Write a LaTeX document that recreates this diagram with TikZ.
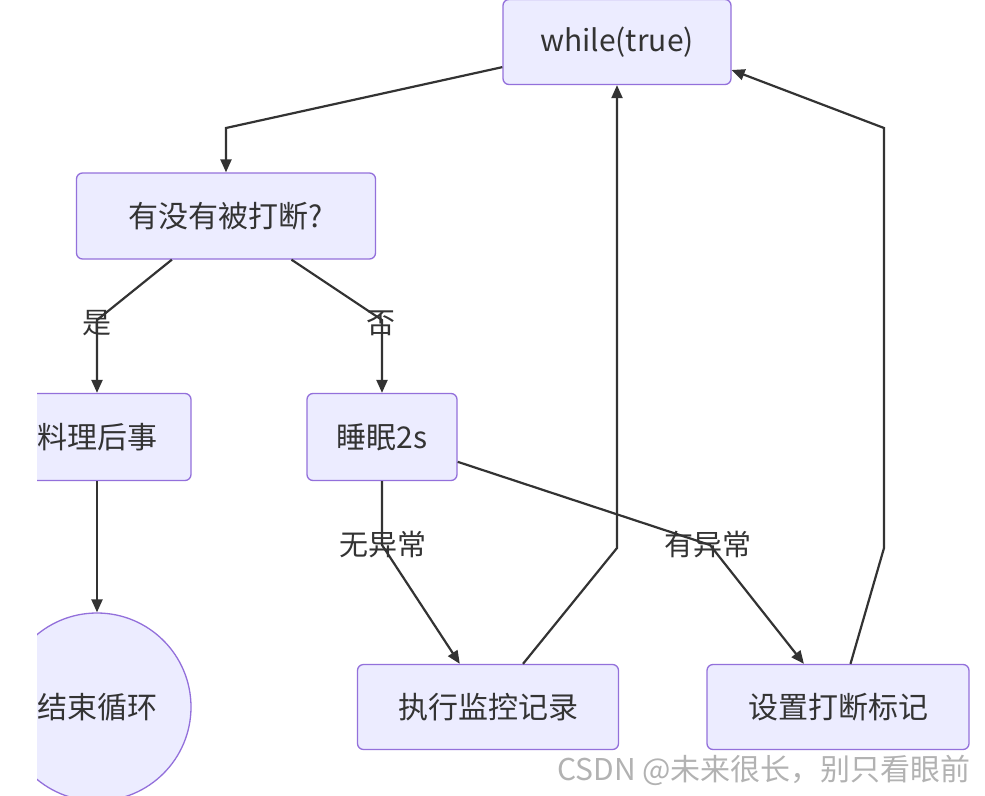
\documentclass[tikz,border=0pt]{standalone}
\usepackage{fontspec}
\setmainfont{Noto Sans CJK SC}
\usetikzlibrary{arrows.meta}
\definecolor{nodefill}{HTML}{ECECFF}
\definecolor{nodeline}{HTML}{9370DB}
\definecolor{txt}{HTML}{333333}
\begin{document}
\begin{tikzpicture}[x=1pt,y=-1pt,
  box/.style={draw=nodeline,fill=nodefill,line width=1.3pt,rounded corners=6pt,
    text=txt,font=\fontsize{30}{32}\selectfont,inner sep=0pt},
  endc/.style={draw=nodeline,fill=nodefill,line width=1.3pt,circle,
    minimum size=188pt,text=txt,font=\fontsize{30}{32}\selectfont,inner sep=0pt},
  arr/.style={draw=txt,line width=2.2pt,-{Triangle[length=13pt,width=11pt]}},
  lbl/.style={text=txt,font=\fontsize{29}{31}\selectfont,inner sep=0pt}]
\useasboundingbox (0,0) rectangle (985,795);
\begin{scope}
\clip (37,0) rectangle (985,795);
\node[box,minimum width=228pt,minimum height=85pt] (w) at (617,42) {while(true)};
\node[box,minimum width=299pt,minimum height=86pt] (q) at (226,216) {有没有被打断?};
\node[box,minimum width=188pt,minimum height=87pt] (h) at (97,437) {料理后事};
\node[endc] (c) at (97,707) {结束循环};
\node[box,minimum width=150pt,minimum height=87pt] (s) at (382,437) {睡眠2s};
\node[box,minimum width=261pt,minimum height=85pt] (e) at (488,707) {执行监控记录};
\node[box,minimum width=262pt,minimum height=85pt] (m) at (838,707) {设置打断标记};

\coordinate (b1) at (226,128);
\coordinate (b2) at (97,320);
\coordinate (b3) at (382,320);
\coordinate (b4) at (382,545);
\coordinate (b5) at (710,545);
\coordinate (b6) at (617,548);
\coordinate (b7) at (884,548);
\coordinate (b8) at (884,128);

\draw[arr] (w) -- (b1) -- (q);
\draw[arr] (q) -- (b2) -- (h);
\draw[arr] (q) -- (b3) -- (s);
\draw[arr] (h) -- (c);
\draw[arr] (s) -- (b4) -- (e);
\draw[arr] (s) -- (b5) -- (m);
\draw[arr] (e) -- (b6) -- (w);
\draw[arr] (m) -- (b7) -- (b8) -- ([yshift=-28pt]w.east);

\node[lbl] (l1) at (97,323) {是};
\node[lbl] (l2) at (381,323) {否};
\node[lbl] (l3) at (383,545) {无异常};
\node[lbl] (l4) at (708,545) {有异常};
\end{scope}
\node[anchor=east,text=gray!60,font=\fontsize{30}{32}\selectfont,inner sep=0pt] (wm) at (971,770) {CSDN @未来很长，别只看眼前};
\end{tikzpicture}
\end{document}
